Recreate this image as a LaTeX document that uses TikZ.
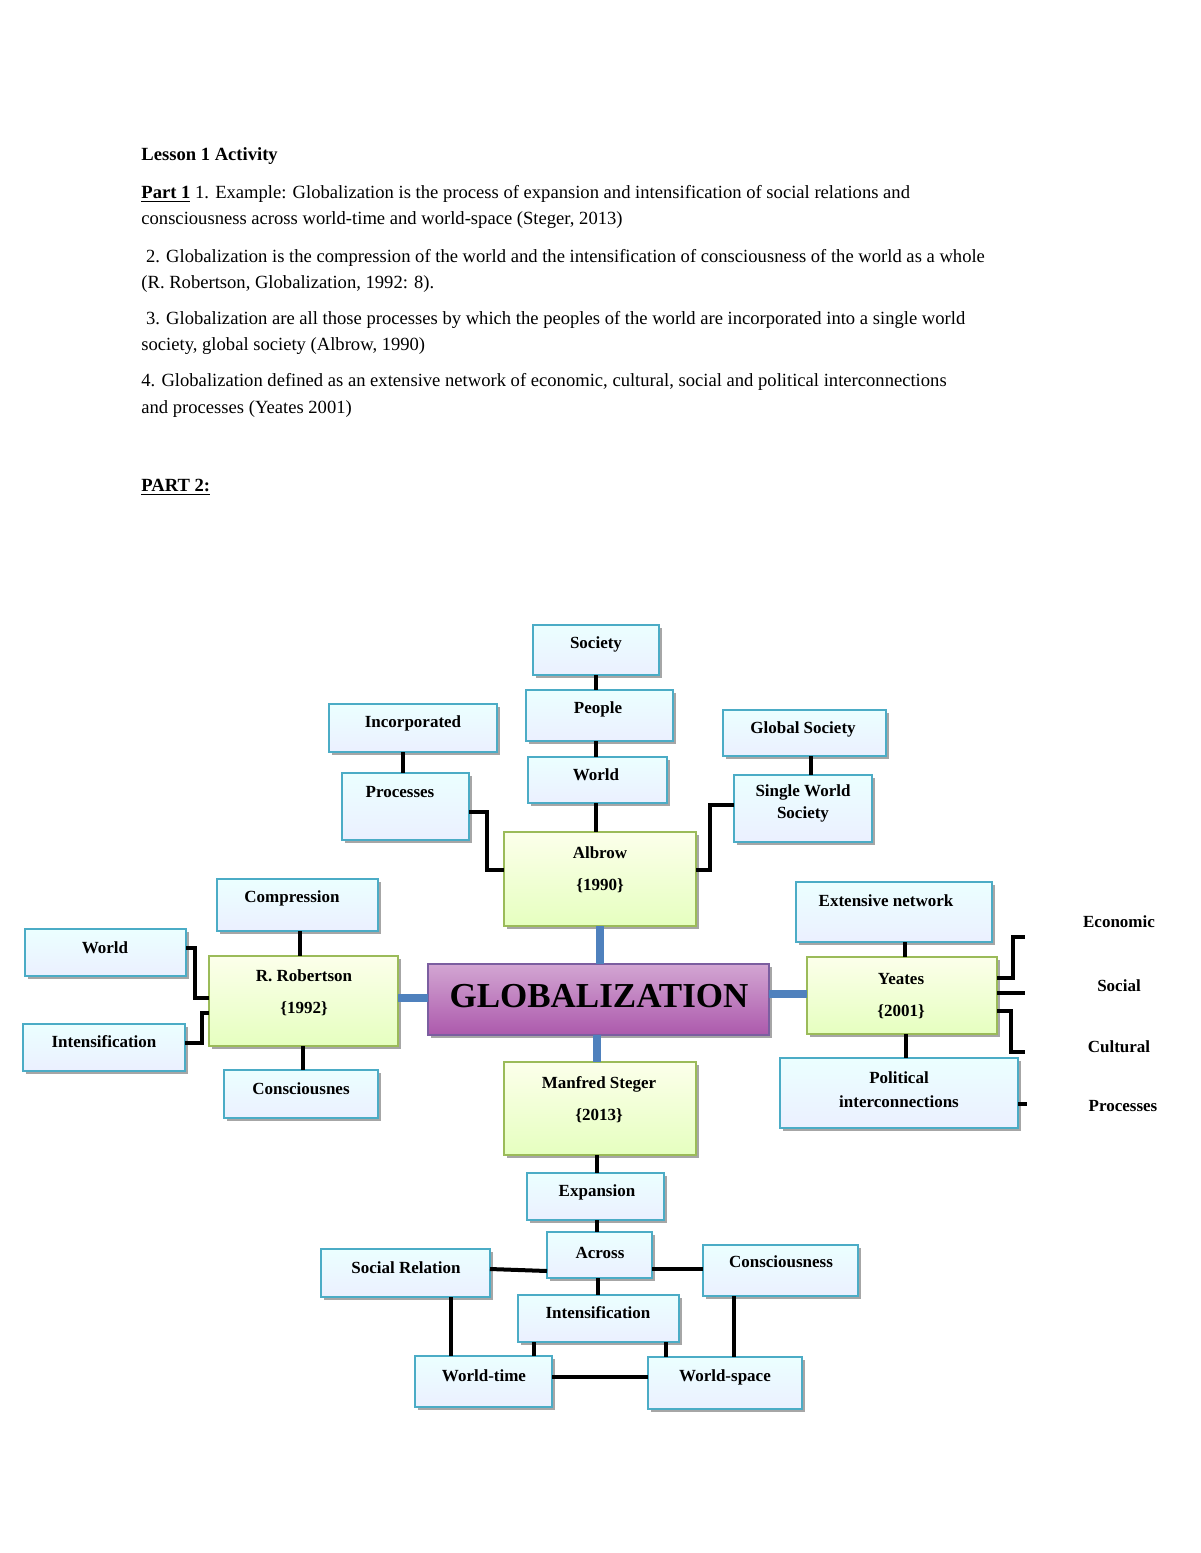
\documentclass[tikz,border=0pt]{standalone}
\usepackage{fontspec}
\setmainfont{Liberation Serif}
\usetikzlibrary{shadows}
\definecolor{bb}{HTML}{4BACC6}
\definecolor{gb}{HTML}{9BBB59}
\definecolor{pb}{HTML}{7B5EA0}
\definecolor{cn}{HTML}{4F81BD}
\tikzset{
 boxbase/.style={inner sep=0pt,outer sep=0pt,line width=1.2pt,drop shadow={shadow xshift=1.5pt,shadow yshift=-1.5pt,fill=black!35,opacity=1}},
 bluebox/.style={boxbase,draw=bb,top color=cyan!8,bottom color=cyan!25!blue!8!white},
 greenbox/.style={boxbase,draw=gb,top color=green!15!yellow!8,bottom color=green!40!yellow!25!white},
 purplebox/.style={boxbase,draw=pb,top color=violet!35!white,bottom color=violet!65!white},
 lbl/.style={font=\fontsize{8.5pt}{10pt}\selectfont\bfseries,align=center,inner sep=0pt},
 side/.style={font=\fontsize{8.5pt}{10pt}\selectfont\bfseries,inner sep=0pt},
 txt/.style={font=\fontsize{9.3pt}{11pt}\selectfont,anchor=base west,inner sep=0pt},
 blk/.style={line width=2pt,black},
 blu/.style={line width=4pt,cn},
}
\newcommand\bx[9]{%
 \pgfmathsetmacro\bw{(#5-#3)*0.5}\pgfmathsetmacro\bh{(#6-#4)*0.5}%
 \node[#2,minimum width=\bw pt,minimum height=\bh pt,anchor=north west] (#1) at (#3,#4) {};
 \node[lbl] at (#7,#8) {#9};}
\begin{document}
\begin{tikzpicture}[x=0.5pt,y=-0.5pt]
\useasboundingbox[fill=white] (0,0) rectangle (1200,1553);
% top text
\node[txt] (t0) at (141,160) {\bfseries Lesson 1 Activity};
\node[txt] (t1) at (141,198) {\bfseries\underline{Part 1} \mdseries 1. Example: Globalization is the process of expansion and intensification of social relations and};
\node[txt] (t2) at (141,224) {consciousness across world-time and world-space (Steger, 2013)};
\node[txt] (t3) at (141,262) {\ 2. Globalization is the compression of the world and the intensification of consciousness of the world as a whole};
\node[txt] (t4) at (141,288) {(R. Robertson, Globalization, 1992: 8).};
\node[txt] (t5) at (141,324) {\ 3. Globalization are all those processes by which the peoples of the world are incorporated into a single world};
\node[txt] (t6) at (141,350) {society, global society (Albrow, 1990)};
\node[txt] (t7) at (141,386) {4. Globalization defined as an extensive network of economic, cultural, social and political interconnections};
\node[txt] (t8) at (141,413) {and processes (Yeates 2001)};
\node[txt] (t9) at (141,491) {\bfseries\underline{PART 2:}};
% connectors first (under boxes)
\coordinate (e1) at (1025,937);
\coordinate (e2) at (1025,993);
\coordinate (e3) at (1025,1052);
\coordinate (e4) at (1027,1104);
% boxes
\bx{soc}{bluebox}{533}{625}{659}{675}{596}{644}{Society}
\bx{peo}{bluebox}{526}{690}{673}{741}{598}{709}{People}
\bx{wtop}{bluebox}{528}{757}{667}{803}{596}{775}{World}
\bx{inc}{bluebox}{329}{704}{497}{752}{413}{723}{Incorporated}
\bx{pro}{bluebox}{342}{773}{469}{840}{400}{792}{Processes}
\bx{gs}{bluebox}{723}{710}{886}{756}{803}{729}{Global Society}
\bx{sws}{bluebox}{734}{775}{872}{842}{803}{803}{Single World\\[1pt]Society}
\bx{alb}{greenbox}{504}{832}{696}{926}{600}{870}{Albrow\\[6pt]\{1990\}}
\bx{com}{bluebox}{217}{879}{378}{931}{292}{898}{Compression}
\bx{wl}{bluebox}{25}{929}{186}{976}{105}{948}{World}
\bx{rob}{greenbox}{209}{956}{398}{1046}{304}{993}{R. Robertson\\[6pt]\{1992\}}
\bx{il}{bluebox}{23}{1024}{185}{1071}{104}{1042}{Intensification}
\bx{cl}{bluebox}{224}{1070}{378}{1118}{301}{1089}{Consciousnes}
\bx{glo}{purplebox}{428}{964}{769}{1035}{599}{996}{\fontsize{17.5pt}{20pt}\selectfont GLOBALIZATION}
\bx{ext}{bluebox}{796}{882}{992}{942}{886}{901}{Extensive network}
\bx{yea}{greenbox}{807}{957}{997}{1034}{901}{996}{Yeates\\[6pt]\{2001\}}
\bx{pol}{bluebox}{780}{1058}{1018}{1128}{899}{1090}{Political\\[2pt]interconnections}
\bx{ste}{greenbox}{504}{1062}{696}{1155}{599}{1100}{Manfred Steger\\[6pt]\{2013\}}
\bx{exp}{bluebox}{527}{1173}{664}{1220}{597}{1192}{Expansion}
\bx{acr}{bluebox}{547}{1232}{652}{1278}{600}{1253}{Across}
\bx{sr}{bluebox}{321}{1249}{490}{1297}{406}{1268}{Social Relation}
\bx{cr}{bluebox}{703}{1245}{858}{1296}{781}{1262}{Consciousness}
\bx{ib}{bluebox}{518}{1295}{679}{1342}{598}{1313}{Intensification}
\bx{wt}{bluebox}{415}{1356}{552}{1407}{484}{1376}{World-time}
\bx{ws}{bluebox}{648}{1357}{802}{1409}{725}{1377}{World-space}
% side labels
\node[side] (eco) at (1119,922) {Economic};
\node[side] (soci) at (1119,986) {Social};
\node[side] (cul) at (1119,1047) {Cultural};
\node[side] (prc) at (1123,1106) {Processes};
% black connectors
\draw[blk] (soc.south -| 596,0) -- (peo.north -| 596,0);
\draw[blk] (peo.south -| 596,0) -- (wtop.north -| 596,0);
\draw[blk] (wtop.south -| 596,0) -- (alb.north -| 596,0);
\draw[blk] (inc.south -| 403,0) -- (pro.north -| 403,0);
\draw[blk] (pro.east |- 0,812) -- (487,812) -- (487,870) -- (alb.west |- 0,870);
\draw[blk] (gs.south -| 811,0) -- (sws.north -| 811,0);
\draw[blk] (sws.west |- 0,805) -- (710,805) -- (710,870) -- (alb.east |- 0,870);
\draw[blk] (com.south -| 300,0) -- (rob.north -| 300,0);
\draw[blk] (wl.east |- 0,948) -- (195,948) -- (195,998) -- (rob.west |- 0,998);
\draw[blk] (il.east |- 0,1043) -- (202,1043) -- (202,1013) -- (rob.west |- 0,1013);
\draw[blk] (rob.south -| 303,0) -- (cl.north -| 303,0);
\draw[blk] (ext.south -| 905,0) -- (yea.north -| 905,0);
\draw[blk] (yea.south -| 906,0) -- (pol.north -| 906,0);
\draw[blk] (yea.east |- 0,978) -- (1013,978) -- (1013,937) -- (e1);
\draw[blk] (yea.east |- 0,993) -- (e2);
\draw[blk] (yea.east |- 0,1011) -- (1011,1011) -- (1011,1052) -- (e3);
\draw[blk] (pol.east |- 0,1104) -- (e4);
\draw[blk] (ste.south -| 597,0) -- (exp.north -| 597,0);
\draw[blk] (exp.south -| 597,0) -- (acr.north -| 597,0);
\draw[blk] (acr.south -| 598,0) -- (ib.north -| 598,0);
\draw[blk] (sr.east |- 0,1269) -- (acr.west |- 0,1271);
\draw[blk] (acr.east |- 0,1269) -- (cr.west |- 0,1269);
\draw[blk] (sr.south -| 451,0) -- (wt.north -| 451,0);
\draw[blk] (cr.south -| 734,0) -- (ws.north -| 734,0);
\draw[blk] (ib.south -| 534,0) -- (wt.north -| 534,0);
\draw[blk] (ib.south -| 666,0) -- (ws.north -| 666,0);
\draw[blk] (wt.east |- 0,1377) -- (ws.west |- 0,1377);
% blue connectors
\draw[blu] (alb.south -| 600,0) -- (glo.north -| 600,0);
\draw[blu] (rob.east |- 0,998) -- (glo.west |- 0,998);
\draw[blu] (glo.east |- 0,994) -- (yea.west |- 0,994);
\draw[blu] (glo.south -| 597,0) -- (ste.north -| 597,0);
\end{tikzpicture}
\end{document}
